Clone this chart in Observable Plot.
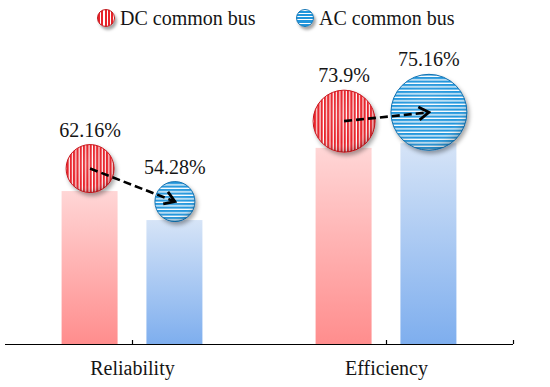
<!DOCTYPE html>
<html><head><meta charset="utf-8">
<script src="https://cdn.jsdelivr.net/npm/d3@7"></script>
<script src="https://cdn.jsdelivr.net/npm/@observablehq/plot@0.6"></script>
<style>
body{margin:0;background:#fff;font-family:"Liberation Serif","Tinos","Times New Roman","Liberation Sans",serif;}
#wrap{width:550px;height:387px;position:relative;overflow:hidden;}
#legend{position:relative;height:38px;width:550px;}
.item{position:absolute;top:7px;display:flex;align-items:center;font-size:20px;color:#151515;line-height:22px;white-space:nowrap;}
.sw{width:16px;height:16px;border-radius:50%;margin-right:5px;box-shadow:2px 3px 3px rgba(0,0,0,0.35);}
.dc{background:repeating-linear-gradient(90deg,#e8232a 0 2.2px,#fff 2.2px 3.3px);border:1px solid #c0151a;}
.ac{background:repeating-linear-gradient(0deg,#2196dc 0 2.2px,#fff 2.2px 3.3px);border:1px solid #1173b3;}
</style></head>
<body>
<div id="wrap">
  <div id="legend"></div>
  <div id="chart"></div>
</div>
<script>
// ---- data ----
const categories = ["Reliability", "Efficiency"];
const series = ["DC common bus", "AC common bus"];
const dcValues = [62.16, 73.9];
const acValues = [54.28, 75.16];
const dcLabels = ["62.16%", "73.9%"];
const acLabels = ["54.28%", "75.16%"];
const dcBubble = [24, 31];   // bubble size (radius units)
const acBubble = [20, 38];

const FONT = '"Liberation Serif", Tinos, "Times New Roman", "Liberation Sans", serif';

// ---- legend ----
const legend = document.getElementById("legend");
[["dc", series[0], 97], ["ac", series[1], 296]].forEach(([cls, name, left]) => {
  const it = document.createElement("div");
  it.className = "item";
  it.style.left = left + "px";
  it.innerHTML = `<span class="sw ${cls}"></span><span>${name}</span>`;
  legend.appendChild(it);
});

// ---- layout ----
const H = 349, mTop = 0, mBottom = 43, mLeft = 5, mRight = 37;
const yMin = 20.6, yMax = 103.75;
const k = (H - mTop - mBottom) / (yMax - yMin); // px per unit
const off = 0.167, halfW = 0.1102;

const rows = categories.map((c, i) => ({
  cat: c, i,
  dc: dcValues[i], ac: acValues[i],
  dcL: dcLabels[i], acL: acLabels[i],
  dcB: dcBubble[i], acB: acBubble[i]
}));

const sink = r => 1 + Math.max(0, r - 24) * 0.4;  // how far a bubble sinks into its bar (px)
const cx = (r, s) => r.i + 0.5 + (s === "dc" ? -off : off);
const cy = (r, s) => r[s] + (r[s + "B"] - sink(r[s + "B"])) / k;
const ly = (r, s) => cy(r, s) + (r[s + "B"] + 8) / k;

const chart = Plot.plot({
  width: 550, height: H,
  marginTop: mTop, marginBottom: mBottom, marginLeft: mLeft, marginRight: mRight,
  style: {fontFamily: FONT, fontSize: "20px", color: "#151515", background: "white", overflow: "visible"},
  x: {domain: [0, 2], ticks: [0.5, 1.5], tickFormat: d => categories[Math.floor(d)], tickSize: 0, tickPadding: 16, label: null},
  y: {domain: [yMin, yMax], axis: null},
  r: {type: "linear", domain: [0, 40], range: [0, 40]},
  marks: [
    Plot.rectY(rows, {x1: r => cx(r, "dc") - halfW, x2: r => cx(r, "dc") + halfW, y1: yMin, y2: "dc", fill: "url(#gDC)"}),
    Plot.rectY(rows, {x1: r => cx(r, "ac") - halfW, x2: r => cx(r, "ac") + halfW, y1: yMin, y2: "ac", fill: "url(#gAC)"}),
    Plot.ruleY([yMin], {stroke: "#000", strokeWidth: 1.2}),
    Plot.ruleX([0.5, 1.5, 2], {y1: yMin, y2: yMin + 4 / k, stroke: "#000", strokeWidth: 1.2}),
    Plot.dot(rows, {x: r => cx(r, "dc"), y: r => cy(r, "dc"), r: "dcB", fill: "url(#pDC)", stroke: "#c8161c", strokeWidth: 1}),
    Plot.dot(rows, {x: r => cx(r, "ac"), y: r => cy(r, "ac"), r: "acB", fill: "url(#pAC)", stroke: "#1170b0", strokeWidth: 1}),
    Plot.dot(rows, {x: r => cx(r, "dc"), y: r => cy(r, "dc"), r: "dcB", fill: "url(#shade)"}),
    Plot.dot(rows, {x: r => cx(r, "ac"), y: r => cy(r, "ac"), r: "acB", fill: "url(#shade)"}),
    Plot.link(rows, {x1: r => cx(r, "dc"), y1: r => cy(r, "dc"), x2: r => cx(r, "ac"), y2: r => cy(r, "ac"), stroke: "#000", strokeWidth: 2.6, strokeDasharray: "8,4"}),
    Plot.text(rows, {x: r => cx(r, "dc"), y: r => ly(r, "dc"), text: "dcL", lineAnchor: "bottom", fontSize: 20, fill: "#151515", fontFamily: FONT}),
    Plot.text(rows, {x: r => cx(r, "ac"), y: r => ly(r, "ac"), text: "acL", lineAnchor: "bottom", fontSize: 20, fill: "#151515", fontFamily: FONT})
  ]
});

const svg = d3.select(chart.tagName.toLowerCase() === "svg" ? chart : chart.querySelector("svg"));
svg.selectAll("text").style("font-family", FONT);
const defs = svg.insert("defs", ":first-child");
function vgrad(id, top, bottom) {
  const g = defs.append("linearGradient").attr("id", id).attr("x1", 0).attr("y1", 0).attr("x2", 0).attr("y2", 1);
  g.append("stop").attr("offset", "0%").attr("stop-color", top);
  g.append("stop").attr("offset", "100%").attr("stop-color", bottom);
}
vgrad("gDC", "#ffd6d6", "#ff8d8d");
vgrad("gAC", "#d6e4f7", "#7eaeee");
const pdc = defs.append("pattern").attr("id", "pDC").attr("patternUnits", "userSpaceOnUse").attr("width", 3.3).attr("height", 10);
pdc.append("rect").attr("width", 3.3).attr("height", 10).attr("fill", "#e8232a");
pdc.append("rect").attr("x", 2.2).attr("width", 1.1).attr("height", 10).attr("fill", "#fff");
const pac = defs.append("pattern").attr("id", "pAC").attr("patternUnits", "userSpaceOnUse").attr("width", 10).attr("height", 3.5);
pac.append("rect").attr("width", 10).attr("height", 3.5).attr("fill", "#2196dc");
pac.append("rect").attr("y", 2.2).attr("width", 10).attr("height", 1.3).attr("fill", "#fff");
const rg = defs.append("radialGradient").attr("id", "shade").attr("cx", "45%").attr("cy", "40%").attr("r", "60%");
rg.append("stop").attr("offset", "0%").attr("stop-color", "#fff").attr("stop-opacity", 0.12);
rg.append("stop").attr("offset", "75%").attr("stop-color", "#fff").attr("stop-opacity", 0);
rg.append("stop").attr("offset", "100%").attr("stop-color", "#000").attr("stop-opacity", 0.2);
const f = defs.append("filter").attr("id", "shadow").attr("x", "-30%").attr("y", "-30%").attr("width", "170%").attr("height", "170%");
f.append("feDropShadow").attr("dx", 2).attr("dy", 3).attr("stdDeviation", 2.2).attr("flood-color", "#000").attr("flood-opacity", 0.35);
svg.selectAll('g[aria-label="dot"]').filter((d, i) => i < 2).attr("filter", "url(#shadow)");
// solid chevron arrow head on the dashed links
const mk = defs.append("marker").attr("id", "head").attr("markerUnits", "userSpaceOnUse")
  .attr("viewBox", "-14 -8 16 16").attr("markerWidth", 16).attr("markerHeight", 16)
  .attr("refX", 0).attr("refY", 0).attr("orient", "auto");
mk.append("path").attr("d", "M-10,-6.5L0,0L-10,6.5").attr("fill", "none").attr("stroke", "#000")
  .attr("stroke-width", 2.8).attr("stroke-linejoin", "miter").attr("stroke-dasharray", "none");
svg.selectAll('g[aria-label="link"] path').attr("marker-end", "url(#head)");

document.getElementById("chart").appendChild(chart);
</script>
</body></html>
